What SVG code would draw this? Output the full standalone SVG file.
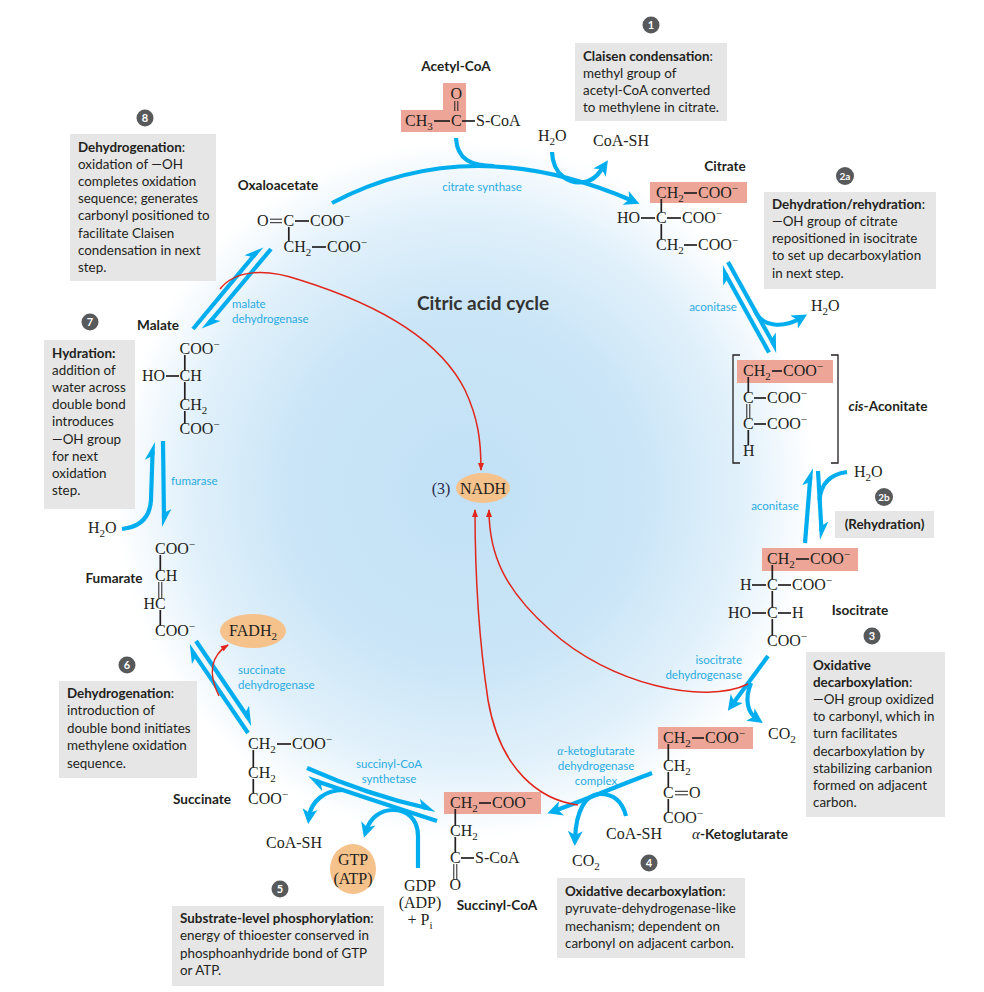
<svg xmlns="http://www.w3.org/2000/svg" width="984" height="992" viewBox="0 0 984 992">
<defs>
<radialGradient id="g" gradientUnits="userSpaceOnUse" cx="465" cy="490" r="350">
<stop offset="0" stop-color="#c2e1f6"/>
<stop offset="0.5" stop-color="#cae5f7"/>
<stop offset="0.8" stop-color="#e2f1fb"/>
<stop offset="1" stop-color="#ffffff"/>
</radialGradient>
<marker id="ah" markerUnits="userSpaceOnUse" viewBox="-10 -10 20 20" markerWidth="20" markerHeight="20" refX="0" refY="0" orient="auto">
<path d="M7,0 L-8,-7.5 L-4,0 L-8,7.5 Z" fill="#00aeef"/>
</marker>
<marker id="hp" markerUnits="userSpaceOnUse" viewBox="-10 -10 20 20" markerWidth="20" markerHeight="20" refX="0" refY="0" orient="auto">
<path d="M9,2.1 L-9,-7.5 L-4,2.1 Z" fill="#00aeef"/>
</marker>
<marker id="ra" markerUnits="userSpaceOnUse" viewBox="-8 -5 10 10" markerWidth="10" markerHeight="10" refX="0" refY="0" orient="auto">
<path d="M1,0 L-7,-3 L-7,3 Z" fill="#e1261c"/>
</marker>
</defs>
<style>
.box{fill:#e6e6e6}
.bt{font-family:Lato,"Open Sans","DejaVu Sans",sans-serif;font-size:13.4px;fill:#231f20}
.b{font-weight:bold}
.nm{font-family:Lato,"DejaVu Sans",sans-serif;font-size:13.6px;font-weight:bold;fill:#231f20}
.ch{font-family:"Liberation Serif","DejaVu Serif",serif;font-size:16px;fill:#231f20}
.en{font-family:Lato,"DejaVu Sans",sans-serif;font-size:11.5px;fill:#29abe2}
.bond{stroke:#231f20;stroke-width:1.7;fill:none}
.bond2{stroke:#231f20;stroke-width:1;fill:none}
.hl{fill:#eca597}
.bl{stroke:#00aeef;stroke-width:4.2;fill:none}
.rd{stroke:#e1261c;stroke-width:1.5;fill:none}
.badge circle{fill:#58595b}
.badge text{font-family:Lato,"DejaVu Sans",sans-serif;font-size:11px;font-weight:bold;fill:#ffffff;text-anchor:middle}
.ell{fill:#f6c28c}
.title{font-family:Lato,"DejaVu Sans",sans-serif;font-size:19px;font-weight:bold;fill:#333333}
</style>
<rect x="0" y="0" width="984" height="992" fill="#ffffff"/>
<rect x="0" y="0" width="984" height="992" fill="url(#g)"/>

<text class="title" x="483" y="310" text-anchor="middle">Citric acid cycle</text>

<!-- badges -->
<g class="badge" id="badge-1"><circle cx="651" cy="25" r="8.5"/><text x="651" y="29">1</text></g>
<g class="badge" id="badge-8"><circle cx="145" cy="118" r="8.5"/><text x="145" y="122">8</text></g>
<g class="badge" id="badge-2a"><circle cx="845" cy="176" r="9"/><text x="845" y="180" style="font-size:10px">2a</text></g>
<g class="badge" id="badge-7"><circle cx="90" cy="322" r="8.5"/><text x="90" y="326">7</text></g>
<g class="badge" id="badge-2b"><circle cx="884" cy="497" r="9"/><text x="884" y="501" style="font-size:10px">2b</text></g>
<g class="badge" id="badge-3"><circle cx="872" cy="636" r="8.5"/><text x="872" y="640">3</text></g>
<g class="badge" id="badge-6"><circle cx="127" cy="665" r="8.5"/><text x="127" y="669">6</text></g>
<g class="badge" id="badge-4"><circle cx="649" cy="863" r="8.5"/><text x="649" y="867">4</text></g>
<g class="badge" id="badge-5"><circle cx="280" cy="889" r="8.5"/><text x="280" y="893">5</text></g>

<!-- boxes -->
<g id="box-1">
<rect class="box" x="575" y="43" width="152" height="78"/>
<text class="bt" x="583" y="60.5"><tspan class="b">Claisen condensation</tspan>:</text>
<text class="bt" x="583" y="77.8">methyl group of</text>
<text class="bt" x="583" y="95.1">acetyl-CoA converted</text>
<text class="bt" x="583" y="112.4">to methylene in citrate.</text>
</g>
<g id="box-8">
<rect class="box" x="70" y="134" width="146" height="147"/>
<text class="bt" x="78" y="152"><tspan class="b">Dehydrogenation</tspan>:</text>
<text class="bt" x="78" y="169.1">oxidation of —OH</text>
<text class="bt" x="78" y="186.2">completes oxidation</text>
<text class="bt" x="78" y="203.3">sequence; generates</text>
<text class="bt" x="78" y="220.4">carbonyl positioned to</text>
<text class="bt" x="78" y="237.5">facilitate Claisen</text>
<text class="bt" x="78" y="254.6">condensation in next</text>
<text class="bt" x="78" y="271.7">step.</text>
</g>
<g id="box-2a">
<rect class="box" x="764" y="192" width="172" height="97"/>
<text class="bt" x="772" y="208.5"><tspan class="b">Dehydration/rehydration</tspan>:</text>
<text class="bt" x="772" y="225.8">—OH group of citrate</text>
<text class="bt" x="772" y="243.1">repositioned in isocitrate</text>
<text class="bt" x="772" y="260.4">to set up decarboxylation</text>
<text class="bt" x="772" y="277.7">in next step.</text>
</g>
<g id="box-7">
<rect class="box" x="44" y="340" width="91" height="169"/>
<text class="bt b" x="52" y="357.5">Hydration:</text>
<text class="bt" x="52" y="374.7">addition of</text>
<text class="bt" x="52" y="391.9">water across</text>
<text class="bt" x="52" y="409.1">double bond</text>
<text class="bt" x="52" y="426.3">introduces</text>
<text class="bt" x="52" y="443.5">—OH group</text>
<text class="bt" x="52" y="460.7">for next</text>
<text class="bt" x="52" y="477.9">oxidation</text>
<text class="bt" x="52" y="495.1">step.</text>
</g>
<g id="box-2b">
<rect class="box" x="835" y="511" width="99" height="27"/>
<text class="bt b" x="884.5" y="528.5" text-anchor="middle">(Rehydration)</text>
</g>
<g id="box-3">
<rect class="box" x="806" y="652" width="139" height="165"/>
<text class="bt b" x="813" y="670">Oxidative</text>
<text class="bt" x="813" y="687.1"><tspan class="b">decarboxylation</tspan>:</text>
<text class="bt" x="813" y="704.2">—OH group oxidized</text>
<text class="bt" x="813" y="721.3">to carbonyl, which in</text>
<text class="bt" x="813" y="738.4">turn facilitates</text>
<text class="bt" x="813" y="755.5">decarboxylation by</text>
<text class="bt" x="813" y="772.6">stabilizing carbanion</text>
<text class="bt" x="813" y="789.7">formed on adjacent</text>
<text class="bt" x="813" y="806.8">carbon.</text>
</g>
<g id="box-6">
<rect class="box" x="59" y="681" width="138" height="97"/>
<text class="bt" x="67" y="697.5"><tspan class="b">Dehydrogenation</tspan>:</text>
<text class="bt" x="67" y="715">introduction of</text>
<text class="bt" x="67" y="732.5">double bond initiates</text>
<text class="bt" x="67" y="750">methylene oxidation</text>
<text class="bt" x="67" y="767.5">sequence.</text>
</g>
<g id="box-5">
<rect class="box" x="172" y="906" width="212" height="80"/>
<text class="bt" x="180" y="922.5"><tspan class="b">Substrate-level phosphorylation</tspan>:</text>
<text class="bt" x="180" y="940">energy of thioester conserved in</text>
<text class="bt" x="180" y="957.5">phosphoanhydride bond of GTP</text>
<text class="bt" x="180" y="975">or ATP.</text>
</g>
<g id="box-4">
<rect class="box" x="557" y="878" width="188" height="80"/>
<text class="bt" x="565" y="895.5"><tspan class="b">Oxidative decarboxylation</tspan>:</text>
<text class="bt" x="565" y="913">pyruvate-dehydrogenase-like</text>
<text class="bt" x="565" y="930.5">mechanism; dependent on</text>
<text class="bt" x="565" y="948">carbonyl on adjacent carbon.</text>
</g>

<!-- connectors -->
<g id="connectors">
<!-- citrate synthase -->
<path class="bl" d="M332,203 Q470,130 633,201" marker-end="url(#ah)"/>
<path class="bl" d="M456,138 C457,160 472,166 494,166"/>
<path class="bl" d="M552,152 C553,176 570,184 584,182 C594,181 600,172 604,166" marker-end="url(#ah)"/>
<!-- aconitase upper -->
<path class="bl" d="M728,262 L773.6,344.1" marker-end="url(#hp)"/>
<path class="bl" d="M769,352.5 L725.4,273.9" marker-end="url(#hp)"/>
<path class="bl" d="M754.6,310 C762,328 784,328 801,318" marker-end="url(#ah)"/>
<!-- aconitase lower -->
<path class="bl" d="M805,543 L810.3,477" marker-end="url(#hp)"/>
<path class="bl" d="M818,471 L821.5,531" marker-end="url(#hp)"/>
<path class="bl" d="M847,472 C832,474 821,482 819.5,500"/>
<!-- isocitrate dehydrogenase -->
<path class="bl" d="M768,656 L732,705" marker-end="url(#ah)"/>
<path class="bl" d="M751,683 C744,700 748,713 757,719" marker-end="url(#ah)"/>
<!-- alpha-KG dehydrogenase -->
<path class="bl" d="M652,773 C620,785 585,800 554,811" marker-end="url(#ah)"/>
<path class="bl" d="M626,816 C622,800 612,794 600,794 C586,794 576,810 575,839" marker-end="url(#ah)"/>
<!-- succinyl-CoA synthetase -->
<path class="bl" d="M437,821 Q372,800 316,781" marker-end="url(#hp)"/>
<path class="bl" d="M307,768 Q368,795 427,808" marker-end="url(#hp)"/>
<path class="bl" d="M343,790 C325,790 311,801 309,817" marker-end="url(#ah)"/>
<path class="bl" d="M418,868 L418,836 C418,818 406,810 393,810 C380,810 370,818 366,831" marker-end="url(#ah)"/>
<!-- succinate dehydrogenase -->
<path class="bl" d="M248,733 L193.1,652.4" marker-end="url(#hp)"/>
<path class="bl" d="M196,641 L247.9,717.5" marker-end="url(#hp)"/>
<!-- fumarase -->
<path class="bl" d="M122,529 C140,527 150,517 151,500 L152.6,451" marker-end="url(#hp)"/>
<path class="bl" d="M163,441 L164,518" marker-end="url(#hp)"/>
<!-- malate dehydrogenase -->
<path class="bl" d="M193,329 L256,253" marker-end="url(#hp)"/>
<path class="bl" d="M271,249 L209,323" marker-end="url(#hp)"/>
<!-- red electron carriers -->
<path class="rd" d="M220,289 C235,270 265,268 300,280 C380,305 440,340 465,390 C478,418 481,440 481,470" marker-end="url(#ra)"/>
<path class="rd" d="M748,684 C705,705 610,685 550,630 C505,590 489,555 489,510" marker-end="url(#ra)"/>
<path class="rd" d="M578,805 C540,800 500,770 488,700 C479,640 475,570 475,510" marker-end="url(#ra)"/>
<path class="rd" d="M219,696 C207,672 212,655 228,645" marker-end="url(#ra)"/>
</g>

<!-- enzyme labels -->
<g id="enzymes">
<text class="en" x="482" y="191" text-anchor="middle">citrate synthase</text>
<text class="en" x="232" y="308">malate</text>
<text class="en" x="232" y="323">dehydrogenase</text>
<text class="en" x="713" y="311" text-anchor="middle">aconitase</text>
<text class="en" x="775" y="510" text-anchor="middle">aconitase</text>
<text class="en" x="171" y="485">fumarase</text>
<text class="en" x="238" y="674">succinate</text>
<text class="en" x="238" y="689">dehydrogenase</text>
<text class="en" x="389" y="768" text-anchor="middle">succinyl-CoA</text>
<text class="en" x="389" y="783" text-anchor="middle">synthetase</text>
<text class="en" x="742" y="664" text-anchor="end">isocitrate</text>
<text class="en" x="742" y="679" text-anchor="end">dehydrogenase</text>
<text class="en" x="596" y="755" text-anchor="middle"><tspan font-family="'Liberation Serif',serif" font-style="italic">α</tspan>-ketoglutarate</text>
<text class="en" x="596" y="770" text-anchor="middle">dehydrogenase</text>
<text class="en" x="596" y="785" text-anchor="middle">complex</text>
</g>

<!-- Acetyl-CoA -->
<g id="acetyl-coa">
<polygon class="hl" points="443,83 466,83 466,132 401,132 401,110 443,110"/>
<text class="nm" x="456" y="71" text-anchor="middle">Acetyl-CoA</text>
<text class="ch" x="450.5" y="99">O</text>
<line class="bond2" x1="454.8" y1="101" x2="454.8" y2="111"/>
<line class="bond2" x1="457.8" y1="101" x2="457.8" y2="111"/>
<text class="ch" x="405" y="126">CH<tspan font-size="11" dy="4">3</tspan></text>
<line class="bond" x1="434" y1="121" x2="450" y2="121"/>
<text class="ch" x="451" y="126">C</text>
<line class="bond" x1="462" y1="121" x2="475" y2="121"/>
<text class="ch" x="476" y="126">S-CoA</text>
</g>

<g id="h2o-1"><text class="ch" x="538" y="141">H<tspan font-size="11" dy="4">2</tspan><tspan dy="-4">O</tspan></text></g>
<g id="coash-1"><text class="ch" x="593" y="146">CoA-SH</text></g>

<!-- Citrate -->
<g id="citrate">
<rect class="hl" x="650" y="182" width="97" height="21"/>
<text class="nm" x="725" y="171" text-anchor="middle">Citrate</text>
<text class="ch" x="656" y="198">CH<tspan font-size="11" dy="4">2</tspan></text>
<line class="bond" x1="684" y1="193" x2="697" y2="193"/>
<text class="ch" x="698" y="198">COO<tspan font-size="11" dy="-6">−</tspan></text>
<text class="ch" x="617" y="223">HO</text>
<line class="bond" x1="641" y1="218" x2="655" y2="218"/>
<text class="ch" x="656" y="223">C</text>
<line class="bond" x1="667" y1="218" x2="681" y2="218"/>
<text class="ch" x="682" y="223">COO<tspan font-size="11" dy="-6">−</tspan></text>
<line class="bond" x1="661.3" y1="199" x2="661.3" y2="212"/>
<line class="bond" x1="661.3" y1="224" x2="661.3" y2="239"/>
<text class="ch" x="656" y="250">CH<tspan font-size="11" dy="4">2</tspan></text>
<line class="bond" x1="684" y1="245" x2="697" y2="245"/>
<text class="ch" x="698" y="250">COO<tspan font-size="11" dy="-6">−</tspan></text>
</g>

<!-- cis-Aconitate -->
<g id="cis-aconitate">
<path d="M740,355 L733,355 L733,463 L740,463 M831,355 L838,355 L838,463 L831,463" stroke="#231f20" stroke-width="1.3" fill="none"/>
<rect class="hl" x="737" y="360" width="96" height="23"/>
<text class="ch" x="743" y="376">CH<tspan font-size="11" dy="4">2</tspan></text>
<line class="bond" x1="772" y1="371" x2="782" y2="371"/>
<text class="ch" x="783" y="376">COO<tspan font-size="11" dy="-6">−</tspan></text>
<line class="bond" x1="748.3" y1="377" x2="748.3" y2="392.5"/>
<text class="ch" x="743" y="403">C</text>
<line class="bond" x1="754" y1="398" x2="766" y2="398"/>
<text class="ch" x="767" y="403">COO<tspan font-size="11" dy="-6">−</tspan></text>
<line class="bond2" x1="746.8" y1="404" x2="746.8" y2="418.5"/>
<line class="bond2" x1="749.8" y1="404" x2="749.8" y2="418.5"/>
<text class="ch" x="743" y="429">C</text>
<line class="bond" x1="754" y1="424" x2="766" y2="424"/>
<text class="ch" x="767" y="429">COO<tspan font-size="11" dy="-6">−</tspan></text>
<line class="bond" x1="748.3" y1="430" x2="748.3" y2="445.5"/>
<text class="ch" x="743" y="456">H</text>
<text class="nm" x="888" y="411" text-anchor="middle"><tspan font-style="italic">cis</tspan>-Aconitate</text>
</g>

<g id="h2o-2"><text class="ch" x="811" y="311">H<tspan font-size="11" dy="4">2</tspan><tspan dy="-4">O</tspan></text></g>
<g id="h2o-3"><text class="ch" x="854" y="477">H<tspan font-size="11" dy="4">2</tspan><tspan dy="-4">O</tspan></text></g>

<!-- Isocitrate -->
<g id="isocitrate">
<rect class="hl" x="762" y="548" width="96" height="23"/>
<text class="ch" x="767" y="564">CH<tspan font-size="11" dy="4">2</tspan></text>
<line class="bond" x1="796" y1="559" x2="809" y2="559"/>
<text class="ch" x="810" y="564">COO<tspan font-size="11" dy="-6">−</tspan></text>
<line class="bond" x1="772.3" y1="565" x2="772.3" y2="579.5"/>
<text class="ch" x="740" y="590">H</text>
<line class="bond" x1="752" y1="585" x2="766" y2="585"/>
<text class="ch" x="767" y="590">C</text>
<line class="bond" x1="778" y1="585" x2="791" y2="585"/>
<text class="ch" x="792" y="590">COO<tspan font-size="11" dy="-6">−</tspan></text>
<line class="bond" x1="772.3" y1="591" x2="772.3" y2="607.5"/>
<text class="ch" x="728" y="618">HO</text>
<line class="bond" x1="752" y1="613" x2="766" y2="613"/>
<text class="ch" x="767" y="618">C</text>
<line class="bond" x1="778" y1="613" x2="791" y2="613"/>
<text class="ch" x="792" y="618">H</text>
<line class="bond" x1="772.3" y1="619" x2="772.3" y2="635.5"/>
<text class="ch" x="767" y="646">COO<tspan font-size="11" dy="-6">−</tspan></text>
<text class="nm" x="860" y="615" text-anchor="middle">Isocitrate</text>
</g>

<g id="co2-1"><text class="ch" x="768" y="739">CO<tspan font-size="11" dy="4">2</tspan></text></g>

<!-- alpha-Ketoglutarate -->
<g id="alpha-ketoglutarate">
<rect class="hl" x="658" y="727" width="95" height="22"/>
<text class="ch" x="663" y="743">CH<tspan font-size="11" dy="4">2</tspan></text>
<line class="bond" x1="692" y1="738" x2="704" y2="738"/>
<text class="ch" x="705" y="743">COO<tspan font-size="11" dy="-6">−</tspan></text>
<line class="bond" x1="668.3" y1="744" x2="668.3" y2="760.5"/>
<text class="ch" x="663" y="771">CH<tspan font-size="11" dy="4">2</tspan></text>
<line class="bond" x1="668.3" y1="772" x2="668.3" y2="787.5"/>
<text class="ch" x="663" y="798">C</text>
<line class="bond2" x1="675" y1="791.3" x2="688" y2="791.3"/>
<line class="bond2" x1="675" y1="794.8" x2="688" y2="794.8"/>
<text class="ch" x="689" y="798">O</text>
<line class="bond" x1="668.3" y1="799" x2="668.3" y2="812.5"/>
<text class="ch" x="663" y="823">COO<tspan font-size="11" dy="-6">−</tspan></text>
<text class="nm" x="692" y="839"><tspan font-family="'Liberation Serif',serif" font-weight="normal" font-style="italic" font-size="15">α</tspan>-Ketoglutarate</text>
</g>

<g id="coash-2"><text class="ch" x="606" y="839">CoA-SH</text></g>
<g id="co2-2"><text class="ch" x="572" y="866">CO<tspan font-size="11" dy="4">2</tspan></text></g>

<!-- Succinyl-CoA -->
<g id="succinyl-coa">
<rect class="hl" x="444" y="792" width="97" height="22"/>
<text class="ch" x="450" y="808">CH<tspan font-size="11" dy="4">2</tspan></text>
<line class="bond" x1="479" y1="803" x2="491" y2="803"/>
<text class="ch" x="492" y="808">COO<tspan font-size="11" dy="-6">−</tspan></text>
<line class="bond" x1="455.3" y1="809" x2="455.3" y2="825.5"/>
<text class="ch" x="450" y="836">CH<tspan font-size="11" dy="4">2</tspan></text>
<line class="bond" x1="455.3" y1="837" x2="455.3" y2="852.5"/>
<text class="ch" x="450" y="863">C</text>
<line class="bond" x1="461" y1="858" x2="474" y2="858"/>
<text class="ch" x="475" y="863">S-CoA</text>
<line class="bond2" x1="453.8" y1="864" x2="453.8" y2="879.5"/>
<line class="bond2" x1="456.8" y1="864" x2="456.8" y2="879.5"/>
<text class="ch" x="449.5" y="890">O</text>
<text class="nm" x="497" y="910" text-anchor="middle">Succinyl-CoA</text>
</g>

<g id="gdp"><text class="ch" x="420" y="891" text-anchor="middle">GDP</text>
<text class="ch" x="420" y="908" text-anchor="middle">(ADP)</text>
<text class="ch" x="420" y="925" text-anchor="middle">+ P<tspan font-size="11" dy="4">i</tspan></text></g>
<g id="gtp"><ellipse class="ell" cx="353" cy="869" rx="23" ry="25"/>
<text class="ch" x="353" y="865" text-anchor="middle">GTP</text>
<text class="ch" x="353" y="884" text-anchor="middle">(ATP)</text></g>
<g id="coash-3"><text class="ch" x="266" y="848">CoA-SH</text></g>

<!-- Succinate -->
<g id="succinate">
<text class="ch" x="248" y="749">CH<tspan font-size="11" dy="4">2</tspan></text>
<line class="bond" x1="277" y1="744" x2="291" y2="744"/>
<text class="ch" x="292" y="749">COO<tspan font-size="11" dy="-6">−</tspan></text>
<line class="bond" x1="253.3" y1="750" x2="253.3" y2="767.5"/>
<text class="ch" x="248" y="778">CH<tspan font-size="11" dy="4">2</tspan></text>
<line class="bond" x1="253.3" y1="779" x2="253.3" y2="793.5"/>
<text class="ch" x="248" y="804">COO<tspan font-size="11" dy="-6">−</tspan></text>
<text class="nm" x="202" y="804" text-anchor="middle">Succinate</text>
</g>

<g id="fadh2"><ellipse class="ell" cx="253" cy="631" rx="33" ry="17"/>
<text class="ch" x="253" y="636" text-anchor="middle">FADH<tspan font-size="11" dy="4">2</tspan></text></g>

<!-- Fumarate -->
<g id="fumarate">
<text class="ch" x="155" y="554">COO<tspan font-size="11" dy="-6">−</tspan></text>
<line class="bond" x1="160.3" y1="555" x2="160.3" y2="570.5"/>
<text class="ch" x="155" y="581">CH</text>
<line class="bond2" x1="158.8" y1="582" x2="158.8" y2="598.5"/>
<line class="bond2" x1="161.8" y1="582" x2="161.8" y2="598.5"/>
<text class="ch" x="143.5" y="609">HC</text>
<line class="bond" x1="160.3" y1="610" x2="160.3" y2="625.5"/>
<text class="ch" x="155" y="636">COO<tspan font-size="11" dy="-6">−</tspan></text>
<text class="nm" x="114" y="583" text-anchor="middle">Fumarate</text>
</g>

<g id="h2o-4"><text class="ch" x="88" y="533">H<tspan font-size="11" dy="4">2</tspan><tspan dy="-4">O</tspan></text></g>

<!-- Malate -->
<g id="malate">
<text class="nm" x="158" y="330" text-anchor="middle">Malate</text>
<text class="ch" x="179.5" y="354">COO<tspan font-size="11" dy="-6">−</tspan></text>
<line class="bond" x1="184.8" y1="355" x2="184.8" y2="370.5"/>
<text class="ch" x="142" y="381">HO</text>
<line class="bond" x1="166" y1="376" x2="179" y2="376"/>
<text class="ch" x="179.5" y="381">CH</text>
<line class="bond" x1="184.8" y1="382" x2="184.8" y2="399.5"/>
<text class="ch" x="179.5" y="410">CH<tspan font-size="11" dy="4">2</tspan></text>
<line class="bond" x1="184.8" y1="411" x2="184.8" y2="423.5"/>
<text class="ch" x="179.5" y="434">COO<tspan font-size="11" dy="-6">−</tspan></text>
</g>

<!-- Oxaloacetate -->
<g id="oxaloacetate">
<text class="nm" x="278" y="190" text-anchor="middle">Oxaloacetate</text>
<text class="ch" x="257" y="226">O</text>
<line class="bond2" x1="270" y1="219.2" x2="282" y2="219.2"/>
<line class="bond2" x1="270" y1="222.7" x2="282" y2="222.7"/>
<text class="ch" x="283.5" y="226">C</text>
<line class="bond" x1="295" y1="221" x2="309" y2="221"/>
<text class="ch" x="310" y="226">COO<tspan font-size="11" dy="-6">−</tspan></text>
<line class="bond" x1="288.8" y1="227" x2="288.8" y2="241"/>
<text class="ch" x="283.5" y="252">CH<tspan font-size="11" dy="4">2</tspan></text>
<line class="bond" x1="312" y1="247" x2="326" y2="247"/>
<text class="ch" x="327" y="252">COO<tspan font-size="11" dy="-6">−</tspan></text>
</g>

<!-- NADH -->
<g id="nadh"><ellipse class="ell" cx="483" cy="488" rx="27" ry="15"/>
<text class="ch" x="483" y="494" text-anchor="middle">NADH</text>
<text class="ch" x="441" y="494" text-anchor="middle" style="fill:#2b2b4a">(3)</text></g>
</svg>
